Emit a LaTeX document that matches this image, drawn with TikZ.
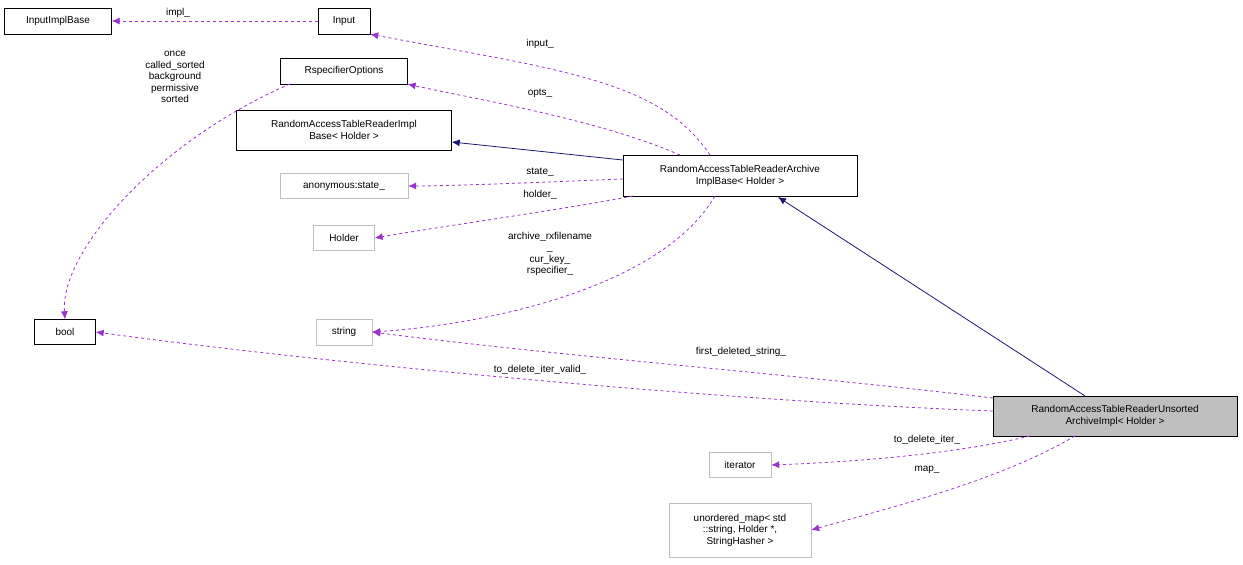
\documentclass[tikz,border=0pt]{standalone}
\usepackage{fontspec}
\setmainfont{Liberation Sans}
\usetikzlibrary{arrows.meta,positioning}
\definecolor{dxpurple}{HTML}{9A32CD}
\definecolor{dxnavy}{HTML}{191970}
\definecolor{dxgray}{HTML}{BFBFBF}
\tikzset{
  cls/.style   = {draw=black, fill=white, align=center, inner sep=2pt,
                  font=\fontsize{10}{11.5}\selectfont},
  ext/.style   = {cls, draw=dxgray},
  cur/.style   = {cls, fill=dxgray},
  use/.style   = {draw=dxpurple, dashed, line width=0.8pt, -{Latex[length=8pt,width=7pt]}},
  inh/.style   = {draw=dxnavy, line width=0.8pt, -{Latex[length=8pt,width=7pt]}},
  lbl/.style   = {font=\fontsize{10}{11.5}\selectfont, align=center, inner sep=1pt, text=black}
}
\begin{document}
\begin{tikzpicture}[x=1pt,y=-1pt]
\useasboundingbox (0,0) rectangle (1243,565);

% classes
\node[cls, minimum width=107, minimum height=26] (iib) at (58,21) {InputImplBase};
\node[cls, minimum width=52, minimum height=26] (inp) at (344,21) {Input};
\node[cls, minimum width=127, minimum height=26] (rso) at (344,71) {RspecifierOptions};
\node[cls, minimum width=215, minimum height=40] (rib) at (344,130) {RandomAccessTableReaderImpl\\Base\textless{} Holder \textgreater};
\node[ext, minimum width=128, minimum height=25] (ast) at (344,186) {anonymous:state\_};
\node[ext, minimum width=61, minimum height=25] (hol) at (344,238) {Holder};
\node[cls, minimum width=61, minimum height=25] (boo) at (65,332) {bool};
\node[ext, minimum width=56, minimum height=26] (str) at (344,332) {string};
\node[cls, minimum width=234, minimum height=41] (arc) at (740,176) {RandomAccessTableReaderArchive\\ImplBase\textless{} Holder \textgreater};
\node[cur, minimum width=244, minimum height=40] (uns) at (1115,416) {RandomAccessTableReaderUnsorted\\ArchiveImpl\textless{} Holder \textgreater};
\node[ext, minimum width=62, minimum height=25] (itr) at (740,465) {iterator};
\node[ext, minimum width=142, minimum height=54] (umap) at (740,530) {unordered\_map\textless{} std\\::string, Holder *,\\StringHasher \textgreater};

% inheritance
\draw[inh] (arc.west |- 0,160) -- (rib.east |- 0,142);
\draw[inh] (uns.north west) ++(92,0) -- (778,197);

% members
\draw[use] (inp.west) -- (iib.east);
\node[lbl] (l0) at (178,13) {impl\_};
\draw[use] (710,155) .. controls (660,80) and (560,70) .. (inp.south east);
\node[lbl] (l1) at (540,44) {input\_};
\draw[use] (680,155) .. controls (600,120) and (480,100) .. (rso.south east);
\node[lbl] (l2) at (540,93) {opts\_};
\draw[use] (arc.west |- 0,179) .. controls (550,182) and (450,186) .. (ast.east);
\node[lbl] (l3) at (540,172) {state\_};
\draw[use] (633,196) .. controls (560,210) and (450,225) .. (hol.east);
\node[lbl] (l4) at (540,195) {holder\_};
\draw[use] (715,196) .. controls (660,290) and (480,325) .. (str.east);
\node[lbl] (l5) at (550,254) {archive\_rxfilename\\\_\\cur\_key\_\\rspecifier\_};
\draw[use] (290,84) .. controls (160,140) and (60,250) .. (boo.north);
\node[lbl] (l6) at (175,77) {once\\called\_sorted\\background\\permissive\\sorted};
\draw[use] (uns.west |- 0,398) .. controls (800,375) and (550,355) .. (str.east);
\node[lbl] (l7) at (741,352) {first\_deleted\_string\_};
\draw[use] (uns.west |- 0,411) .. controls (700,400) and (300,360) .. (boo.east);
\node[lbl] (l8) at (540,370) {to\_delete\_iter\_valid\_};
\draw[use] (1030,436) .. controls (950,455) and (850,462) .. (itr.east);
\node[lbl] (l9) at (927,440) {to\_delete\_iter\_};
\draw[use] (1075,436) .. controls (1000,480) and (900,505) .. (umap.east);
\node[lbl] (l10) at (927,470) {map\_};
\end{tikzpicture}
\end{document}
